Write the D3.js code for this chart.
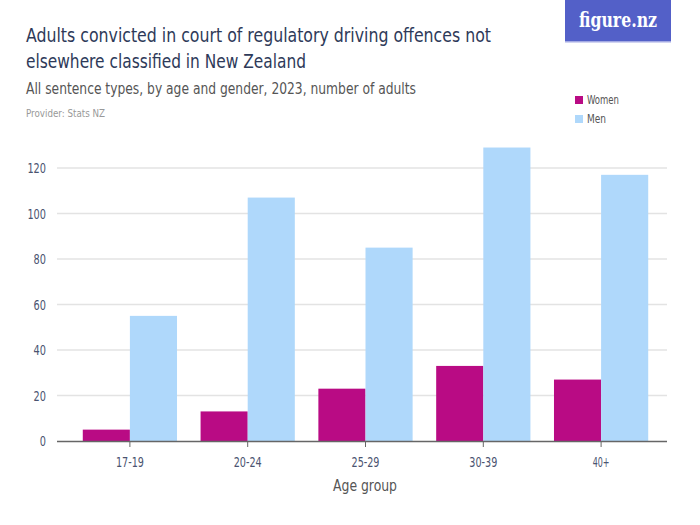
<!DOCTYPE html>
<html>
<head>
<meta charset="utf-8">
<script src="https://cdn.jsdelivr.net/npm/d3@7"></script>
<style>
body { margin: 0; background: #fff; }
text { font-family: "DejaVu Sans", sans-serif; font-stretch: condensed; }
</style>
</head>
<body>
<div id="chart"></div>
<script>
const ageGroups = ["17-19", "20-24", "25-29", "30-39", "40+"];
const women = [5, 13, 23, 33, 27];
const men = [55, 107, 85, 129, 117];
const seriesNames = ["Women", "Men"];
const seriesColors = ["#b90b84", "#afd8fb"];
const yTicks = [0, 20, 40, 60, 80, 100, 120];

const width = 700, height = 525;
const svg = d3.select("#chart").append("svg")
	.attr("width", width)
	.attr("height", height);

// squeeze a text to a wanted width (the reference font is narrower)
function fit(sel, w) {
	const len = sel.node().getComputedTextLength();
	if (len > 0) sel.attr("textLength", w).attr("lengthAdjust", "spacingAndGlyphs");
	return sel;
}

// titles
fit(svg.append("text").attr("x", 26).attr("y", 42)
	.attr("font-size", 20).attr("fill", "#2e3a59")
	.text("Adults convicted in court of regulatory driving offences not"), 465);
fit(svg.append("text").attr("x", 26).attr("y", 68)
	.attr("font-size", 20).attr("fill", "#2e3a59")
	.text("elsewhere classified in New Zealand"), 280);
fit(svg.append("text").attr("x", 26).attr("y", 94)
	.attr("font-size", 16).attr("fill", "#555")
	.text("All sentence types, by age and gender, 2023, number of adults"), 390);
fit(svg.append("text").attr("x", 26).attr("y", 117)
	.attr("font-size", 10.5).attr("fill", "#999")
	.text("Provider: Stats NZ"), 79);

// logo
svg.append("rect").attr("x", 565).attr("y", 0).attr("width", 106).attr("height", 42)
	.attr("fill", "#5360c8");
svg.append("rect").attr("x", 565).attr("y", 41).attr("width", 106).attr("height", 1.5)
	.attr("fill", "#a4aae3");
fit(svg.append("text").attr("x", 579).attr("y", 27)
	.attr("font-size", 20).attr("fill", "#fff").attr("font-weight", "bold")
	.style("font-family", "'DejaVu Serif', serif")
	.text("figure.nz"), 78);

// legend
const legend = svg.append("g");
seriesNames.forEach((name, i) => {
	legend.append("rect").attr("x", 575).attr("y", 96 + i * 19)
		.attr("width", 8).attr("height", 8).attr("fill", seriesColors[i]);
	fit(legend.append("text").attr("x", 587).attr("y", 104 + i * 19)
		.attr("font-size", 11.5).attr("fill", "#555").text(name), name == "Women" ? 32 : 19);
});

const x = d3.scaleBand().domain(ageGroups).range([71, 660])
	.paddingInner(0.2).paddingOuter(0.1);
const x1 = d3.scaleBand().domain(seriesNames).range([0, x.bandwidth()]);
const y = d3.scaleLinear().domain([0, 120]).range([441, 168]);

// grid
svg.append("g").selectAll("line").data(yTicks.slice(1)).enter().append("line")
	.attr("x1", 57).attr("x2", 667)
	.attr("y1", (d) => y(d)).attr("y2", (d) => y(d))
	.attr("stroke", "#e3e3e3").attr("stroke-width", 1.5);

svg.append("g").selectAll("text").data(yTicks).enter().append("text")
	.attr("x", 46).attr("y", (d) => y(d) + 5)
	.attr("text-anchor", "end").attr("font-size", 14).attr("fill", "#4a5370")
	.attr("textLength", (d) => String(d).length * 6.2)
	.attr("lengthAdjust", "spacingAndGlyphs")
	.text((d) => d);

// bars
const rows = ageGroups.map((g, i) => ({ group: g, values: [women[i], men[i]] }));
svg.append("g").selectAll("g").data(rows).enter().append("g")
	.attr("transform", (d) => "translate(" + x(d.group) + ",0)")
	.selectAll("rect")
	.data((d) => d.values.map((v, j) => ({ name: seriesNames[j], value: v, color: seriesColors[j] })))
	.enter()
	.append("rect")
	.attr("x", (d) => x1(d.name))
	.attr("y", (d) => y(d.value))
	.attr("width", x1.bandwidth())
	.attr("height", (d) => y(0) - y(d.value))
	.attr("fill", (d) => d.color);

// x axis
svg.append("line").attr("x1", 57).attr("x2", 667).attr("y1", 441.5).attr("y2", 441.5)
	.attr("stroke", "#666").attr("stroke-width", 1.5);
const xg = svg.append("g").selectAll("g").data(ageGroups).enter().append("g")
	.attr("transform", (d) => "translate(" + (x(d) + x.bandwidth() / 2) + ",0)");
xg.append("line").attr("y1", 441).attr("y2", 447).attr("stroke", "#666");
xg.append("text").attr("y", 467).attr("text-anchor", "middle")
	.attr("font-size", 14).attr("fill", "#4a5370")
	.attr("textLength", (d) => d.length * 5.6)
	.attr("lengthAdjust", "spacingAndGlyphs")
	.text((d) => d);

fit(svg.append("text").attr("x", 365).attr("y", 491).attr("text-anchor", "middle")
	.attr("font-size", 16).attr("fill", "#555").text("Age group"), 64);
</script>
</body>
</html>
